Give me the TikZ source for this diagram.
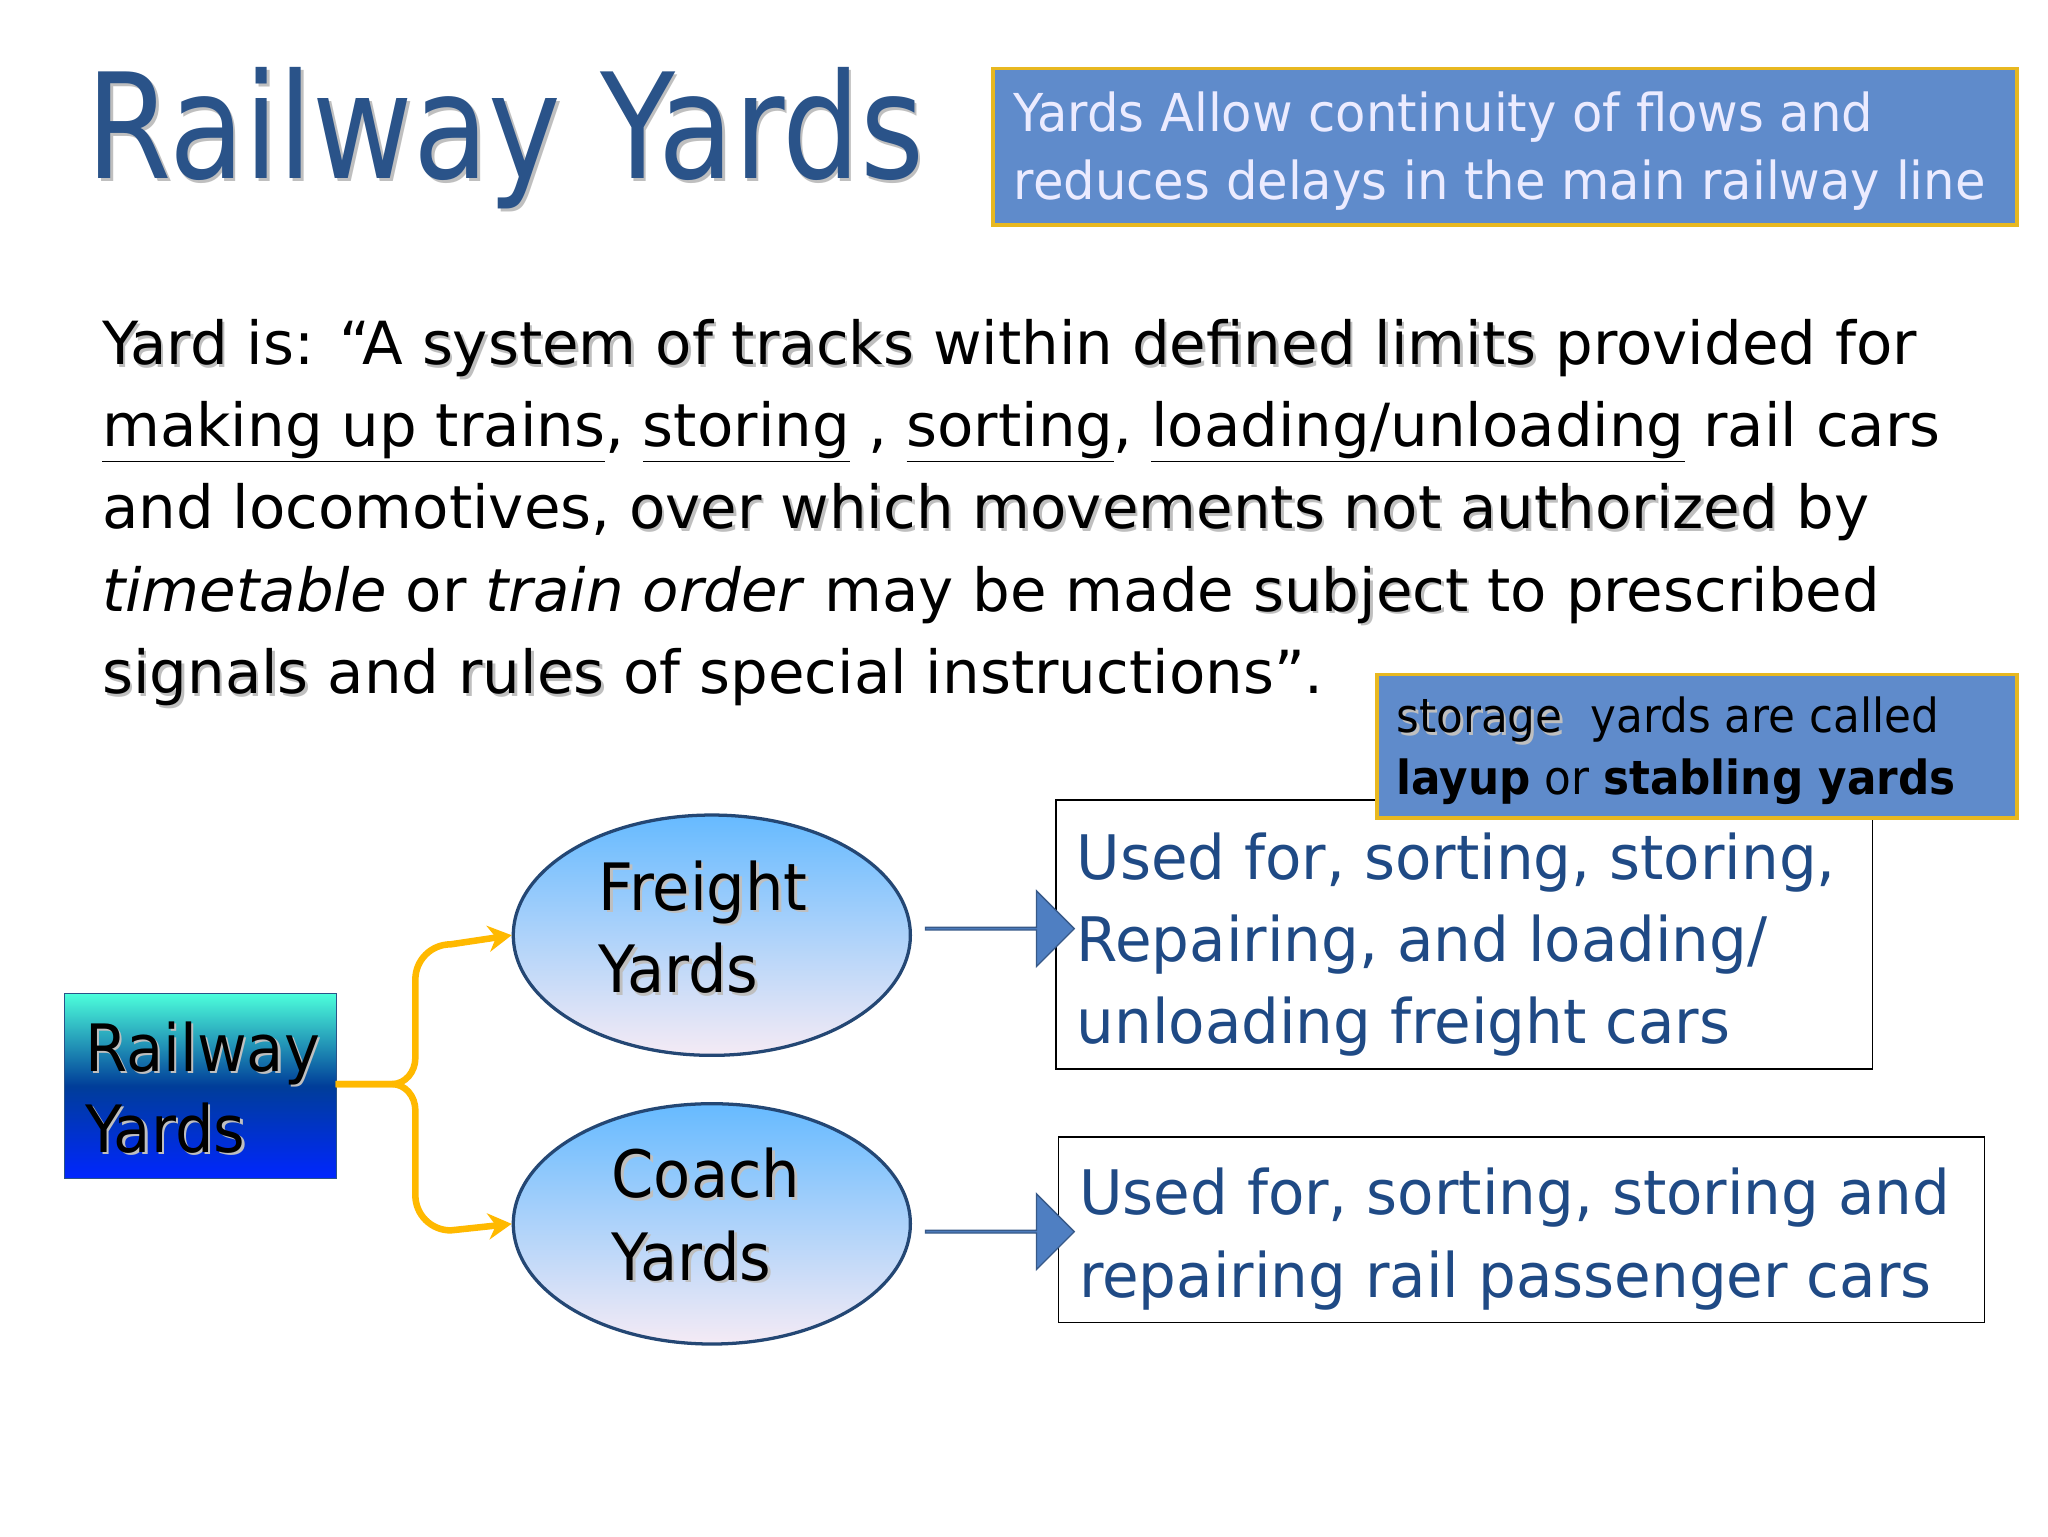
\documentclass[tikz,border=0pt]{standalone}
\usepackage{fontspec}
\setmainfont{DejaVu Sans}
\usetikzlibrary{shapes.geometric,shapes.arrows,arrows.meta}
\definecolor{ttl}{HTML}{2A5389}
\definecolor{boxb}{HTML}{5F8BCB}
\definecolor{gold}{HTML}{E8B820}
\definecolor{txtb}{HTML}{1F4A85}
\definecolor{orng}{HTML}{FFB900}
\definecolor{arrb}{HTML}{4F7FC2}
\newcommand\shd[1]{\leavevmode\rlap{\kern2pt\raisebox{-2pt}{\textcolor{black!25}{#1}}}#1}
\tikzset{
 tl/.style={anchor=base west,inner sep=0pt},
 bodyline/.style={tl,font=\fontsize{45.5}{50}\selectfont},
 toptext/.style={tl,text=white!92!blue,font=\fontsize{40}{52}\selectfont\addfontfeature{FakeStretch=0.95}},
 bluetext/.style={tl,text=txtb,font=\fontsize{47}{63}\selectfont\addfontfeature{FakeStretch=0.97}},
 stortext/.style={tl,font=\fontsize{36}{47}\selectfont\addfontfeature{FakeStretch=0.93}},
 ovaltext/.style={tl,font=\fontsize{50}{63}\selectfont\addfontfeature{FakeStretch=0.93}},
 oval/.style={ellipse,draw=ttl!85!black,line width=2.5pt,minimum width=304pt,minimum height=184pt,top color=blue!45!cyan!60,bottom color=violet!8,shading angle=0},
 infobox/.style={draw=black,line width=1pt,anchor=north west,inner sep=0pt},
 blockarr/.style={single arrow,fill=arrb,draw=arrb!70!black,line width=1pt,minimum height=114pt,minimum width=58pt,single arrow head extend=14pt,single arrow head indent=0pt,inner sep=0pt,single arrow tip angle=90},
 brace/.style={orng,line width=5pt,-{Stealth[length=18pt,width=20pt]}}
}
\begin{document}
\begin{tikzpicture}[x=1pt,y=1pt]
\useasboundingbox[fill=white] (0,0) rectangle (1568,-1176);
% title
\node[tl,text=ttl,font=\fontsize{112}{112}\selectfont\addfontfeature{FakeStretch=0.84}] (title) at (66,-137) {\shd{Railway Yards}};
% top right box
\node[anchor=north west,fill=boxb,draw=gold,line width=2.5pt,minimum width=784pt,minimum height=120pt,inner sep=0pt] (topbox) at (759,-51) {};
\node[toptext] (tt1) at (776,-101) {Yards Allow continuity of flows and};
\node[toptext] (tt2) at (776,-153) {reduces delays in the main railway line};
% body
\node[bodyline] (l1) at (78,-279) {\shd{Yard} is: “A \shd{system of tracks} within \shd{defined limits} provided for};
\node[bodyline] (l2) at (78,-342) {\underline{making up trains}, \underline{storing} , \underline{sorting}, \underline{loading/unloading} rail cars};
\node[bodyline] (l3) at (78,-405) {and locomotives, \shd{over which movements not authorized} by};
\node[bodyline] (l4) at (78,-468) {\textit{timetable} or \textit{train order} may be made \shd{subject} to prescribed};
\node[bodyline] (l5) at (78,-531) {\shd{signals} and \shd{rules} of special instructions”.};
% text boxes
\node[infobox,minimum width=625pt,minimum height=206pt] (fbox) at (808,-612) {};
\node[bluetext] (f1) at (824,-673) {Used for, sorting, storing,};
\node[bluetext] (f2) at (824,-736) {Repairing, and loading/};
\node[bluetext] (f3) at (824,-799) {unloading freight cars};
\node[infobox,minimum width=709pt,minimum height=142pt] (cbox) at (810,-870) {};
\node[bluetext] (c1) at (826,-930) {Used for, sorting, storing and};
\node[bluetext] (c2) at (826,-993) {repairing rail passenger cars};
% storage box
\node[anchor=north west,fill=boxb,draw=gold,line width=2.5pt,minimum width=490pt,minimum height=110pt,inner sep=0pt] (sbox) at (1053,-515) {};
\node[stortext] (s1) at (1069,-561) {\shd{storage}\ \ yards are called};
\node[stortext] (s2) at (1069,-608) {\textbf{layup} or \textbf{stabling yards}};
% ellipses
\node[oval] (fy) at (545,-716) {};
\node[ovaltext] (fy1) at (458,-697) {\shd{Freight}};
\node[ovaltext] (fy2) at (458,-760) {\shd{Yards}};
\node[oval] (cy) at (545,-937) {};
\node[ovaltext] (cy1) at (468,-917) {\shd{Coach}};
\node[ovaltext] (cy2) at (468,-980) {\shd{Yards}};
% railway yards box
\node[anchor=north west,draw=ttl,line width=1pt,minimum width=208pt,minimum height=142pt,inner sep=0pt,top color=cyan!80!green!70,bottom color=blue!85!cyan,middle color=blue!60!cyan!60!black] (ry) at (49,-760) {};
\node[ovaltext] (ry1) at (65,-820) {\shd{Railway}};
\node[ovaltext] (ry2) at (65,-882) {\shd{Yards}};
% braces
\coordinate (bm) at (257,-830);
\draw[brace] (bm) -- (300,-830) to[out=0,in=-90] (318,-810) -- (318,-750) to[out=90,in=180] (345,-723) -- (fy.west);
\draw[brace] (bm) -- (300,-830) to[out=0,in=90] (318,-850) -- (318,-915) to[out=-90,in=180] (345,-942) -- (cy.west);
% block arrows
\node[blockarr,anchor=west] (a1) at (708,-711) {};
\node[blockarr,anchor=west] (a2) at (708,-943) {};
\end{tikzpicture}
\end{document}
